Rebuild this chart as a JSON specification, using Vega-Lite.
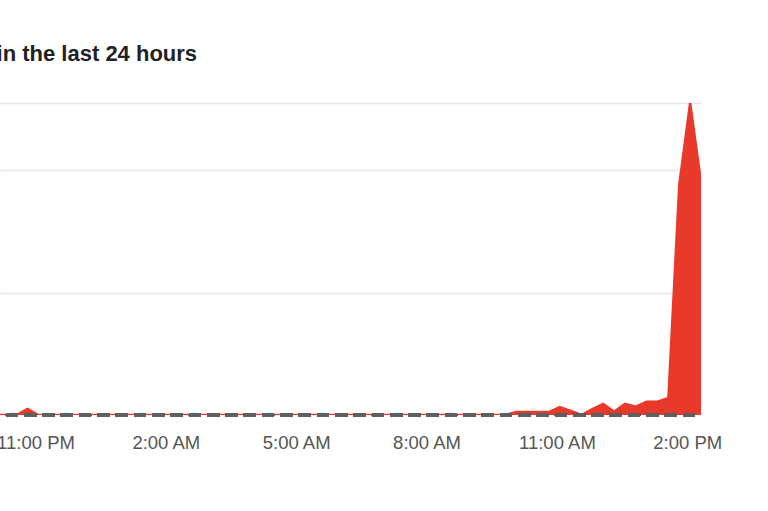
{
  "$schema": "https://vega.github.io/schema/vega-lite/v6.json",
  "width": 701,
  "height": 312,
  "autosize": "none",
  "padding": {"left": 0, "top": 103, "right": 67, "bottom": 96},
  "background": "white",
  "config": {"view": {"stroke": null}},
  "title": {
    "text": "in the last 24 hours",
    "anchor": "start",
    "orient": "top",
    "baseline": "alphabetic",
    "offset": 20,
    "font": "Liberation Sans, Arial",
    "fontSize": 22,
    "fontWeight": "bold",
    "color": "#222222"
  },
  "data": {
    "values": [
      {"time": "2024-01-01T22:04:00Z", "reports": 0},
      {"time": "2024-01-01T22:19:00Z", "reports": 0},
      {"time": "2024-01-01T22:34:00Z", "reports": 0},
      {"time": "2024-01-01T22:49:00Z", "reports": 49},
      {"time": "2024-01-01T23:04:00Z", "reports": 0},
      {"time": "2024-01-01T23:19:00Z", "reports": 0},
      {"time": "2024-01-01T23:34:00Z", "reports": 0},
      {"time": "2024-01-01T23:49:00Z", "reports": 0},
      {"time": "2024-01-02T00:04:00Z", "reports": 0},
      {"time": "2024-01-02T00:19:00Z", "reports": 0},
      {"time": "2024-01-02T00:34:00Z", "reports": 0},
      {"time": "2024-01-02T00:49:00Z", "reports": 0},
      {"time": "2024-01-02T01:04:00Z", "reports": 0},
      {"time": "2024-01-02T01:19:00Z", "reports": 0},
      {"time": "2024-01-02T01:34:00Z", "reports": 0},
      {"time": "2024-01-02T01:49:00Z", "reports": 0},
      {"time": "2024-01-02T02:04:00Z", "reports": 0},
      {"time": "2024-01-02T02:19:00Z", "reports": 0},
      {"time": "2024-01-02T02:34:00Z", "reports": 0},
      {"time": "2024-01-02T02:49:00Z", "reports": 0},
      {"time": "2024-01-02T03:04:00Z", "reports": 0},
      {"time": "2024-01-02T03:19:00Z", "reports": 0},
      {"time": "2024-01-02T03:34:00Z", "reports": 0},
      {"time": "2024-01-02T03:49:00Z", "reports": 0},
      {"time": "2024-01-02T04:04:00Z", "reports": 0},
      {"time": "2024-01-02T04:19:00Z", "reports": 0},
      {"time": "2024-01-02T04:34:00Z", "reports": 0},
      {"time": "2024-01-02T04:49:00Z", "reports": 0},
      {"time": "2024-01-02T05:04:00Z", "reports": 0},
      {"time": "2024-01-02T05:19:00Z", "reports": 0},
      {"time": "2024-01-02T05:34:00Z", "reports": 0},
      {"time": "2024-01-02T05:49:00Z", "reports": 0},
      {"time": "2024-01-02T06:04:00Z", "reports": 0},
      {"time": "2024-01-02T06:19:00Z", "reports": 0},
      {"time": "2024-01-02T06:34:00Z", "reports": 0},
      {"time": "2024-01-02T06:49:00Z", "reports": 0},
      {"time": "2024-01-02T07:04:00Z", "reports": 0},
      {"time": "2024-01-02T07:19:00Z", "reports": 0},
      {"time": "2024-01-02T07:34:00Z", "reports": 0},
      {"time": "2024-01-02T07:49:00Z", "reports": 0},
      {"time": "2024-01-02T08:04:00Z", "reports": 0},
      {"time": "2024-01-02T08:19:00Z", "reports": 0},
      {"time": "2024-01-02T08:34:00Z", "reports": 0},
      {"time": "2024-01-02T08:49:00Z", "reports": 0},
      {"time": "2024-01-02T09:04:00Z", "reports": 0},
      {"time": "2024-01-02T09:19:00Z", "reports": 0},
      {"time": "2024-01-02T09:34:00Z", "reports": 0},
      {"time": "2024-01-02T09:49:00Z", "reports": 0},
      {"time": "2024-01-02T10:04:00Z", "reports": 24},
      {"time": "2024-01-02T10:19:00Z", "reports": 24},
      {"time": "2024-01-02T10:34:00Z", "reports": 24},
      {"time": "2024-01-02T10:49:00Z", "reports": 24},
      {"time": "2024-01-02T11:04:00Z", "reports": 65},
      {"time": "2024-01-02T11:19:00Z", "reports": 33},
      {"time": "2024-01-02T11:34:00Z", "reports": 0},
      {"time": "2024-01-02T11:49:00Z", "reports": 49},
      {"time": "2024-01-02T12:04:00Z", "reports": 90},
      {"time": "2024-01-02T12:19:00Z", "reports": 27},
      {"time": "2024-01-02T12:34:00Z", "reports": 90},
      {"time": "2024-01-02T12:49:00Z", "reports": 68},
      {"time": "2024-01-02T13:04:00Z", "reports": 109},
      {"time": "2024-01-02T13:19:00Z", "reports": 109},
      {"time": "2024-01-02T13:34:00Z", "reports": 139},
      {"time": "2024-01-02T13:49:00Z", "reports": 1878},
      {"time": "2024-01-02T14:04:00Z", "reports": 2547},
      {"time": "2024-01-02T14:19:00Z", "reports": 1900}
    ]
  },
  "layer": [
    {
      "mark": {
        "type": "area",
        "color": "#E8392A",
        "opacity": 1,
        "clip": true,
        "line": {"color": "#E8392A", "strokeWidth": 2.5}
      },
      "encoding": {
        "x": {
          "field": "time",
          "type": "temporal",
          "scale": {
            "type": "utc",
            "domain": [
              {"year": 2024, "month": 1, "date": 1, "hours": 22, "minutes": 11, "utc": true},
              {"year": 2024, "month": 1, "date": 2, "hours": 14, "minutes": 19, "utc": true}
            ]
          },
          "axis": {
            "title": null,
            "values": [
              {"year": 2024, "month": 1, "date": 1, "hours": 23, "utc": true},
              {"year": 2024, "month": 1, "date": 2, "hours": 2, "utc": true},
              {"year": 2024, "month": 1, "date": 2, "hours": 5, "utc": true},
              {"year": 2024, "month": 1, "date": 2, "hours": 8, "utc": true},
              {"year": 2024, "month": 1, "date": 2, "hours": 11, "utc": true},
              {"year": 2024, "month": 1, "date": 2, "hours": 14, "utc": true}
            ],
            "format": "%-I:%M %p",
            "grid": false,
            "domain": false,
            "ticks": false,
            "tickSize": 0,
            "labelPadding": 18,
            "labelFont": "Liberation Sans, Arial",
            "labelFontSize": 18.5,
            "labelColor": "#555555",
            "labelFlush": false,
            "labelOverlap": false
          }
        },
        "y": {
          "field": "reports",
          "type": "quantitative",
          "scale": {"domain": [0, 2547], "nice": false, "zero": true},
          "axis": {
            "title": null,
            "values": [1000, 2000, 2547],
            "grid": true,
            "gridColor": "#e6e6e6",
            "gridWidth": 1.6,
            "labels": false,
            "ticks": false,
            "domain": false
          }
        }
      }
    },
    {
      "mark": {
        "type": "rule",
        "color": "#5f5f5f",
        "strokeWidth": 2.5,
        "strokeDash": [12, 6.3],
        "strokeDashOffset": 12.3
      },
      "encoding": {"y": {"datum": 0}}
    }
  ]
}
